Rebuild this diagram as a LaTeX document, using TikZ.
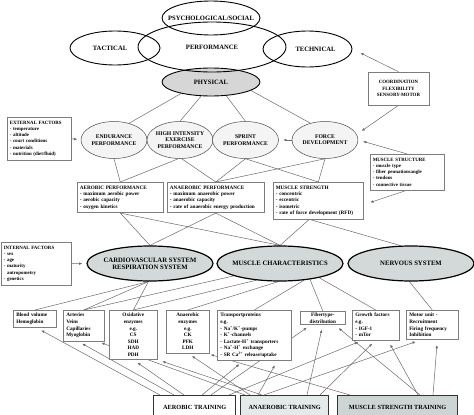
\documentclass[tikz,border=0pt]{standalone}
\usepackage{fontspec}
\setmainfont{Liberation Serif}
\usepackage{tikz}
\usetikzlibrary{arrows.meta,shapes.geometric,backgrounds}
\definecolor{edge}{RGB}{105,105,105}
\definecolor{frame}{RGB}{125,125,125}
\definecolor{physfill}{RGB}{214,214,214}
\definecolor{sysfill}{RGB}{211,217,217}
\definecolor{efffill}{RGB}{244,244,244}
\definecolor{antrfill}{RGB}{228,233,233}
\definecolor{mstrfill}{RGB}{204,212,212}
\tikzset{
  oval/.style={ellipse, draw=black, line width=0.9pt, inner sep=0pt},
  ovaltxt/.style={align=center, inner sep=0pt, font=\fontsize{6.6}{7.6}\selectfont\bfseries},
  % performance ellipses
  effect/.style={ellipse, draw=black!70, line width=0.5pt, fill=efffill, inner sep=0pt,
    minimum width=66pt, minimum height=37pt},
  efftxt/.style={align=center, inner sep=0pt, font=\fontsize{5.7}{6.3}\selectfont\bfseries},
  system/.style={ellipse, draw=black, line width=1.2pt, fill=sysfill, inner sep=0pt,
    minimum width=126pt, minimum height=35pt},
  systxt/.style={align=center, inner sep=0pt, font=\fontsize{6.7}{6.9}\selectfont\bfseries},
  % boxes
  factor/.style={draw=frame, line width=0.6pt, fill=white, anchor=north west, align=left,
    inner xsep=2.5pt, inner ysep=3.5pt, font=\fontsize{4.9}{6.3}\selectfont\bfseries},
  capacity/.style={factor, font=\fontsize{5.2}{6.3}\selectfont\bfseries},
  adapt/.style={draw=frame, line width=0.6pt, fill=white, anchor=north west, align=left,
    inner xsep=3pt, inner ysep=3pt, font=\fontsize{5.2}{6.6}\selectfont\bfseries},
  training/.style={draw=black!80, line width=1.3pt, anchor=north west, minimum height=23pt,
    font=\fontsize{6.3}{7}\selectfont\bfseries},
  link/.style={draw=edge, line width=0.5pt},
  arr/.style={draw=edge, line width=0.5pt, -{Latex[length=3.2pt,width=2.6pt]}, shorten >=5pt}
}
\begin{document}
\begin{tikzpicture}[x=1pt, y=-1pt]
  \useasboundingbox (0,0) rectangle (474,415);

  % top
  \node[oval, minimum width=98pt, minimum height=34pt, label={[ovaltxt]center:PSYCHOLOGICAL/SOCIAL}] (psych) at (211,18) {};
  \node[oval, minimum width=90pt, minimum height=34pt, label={[ovaltxt, xshift=-5pt]center:TACTICAL}] (tact) at (115,48) {};
  \node[oval, minimum width=89pt, minimum height=36pt, label={[ovaltxt, xshift=8pt]center:TECHNICAL}] (tech) at (307.5,49) {};
  \node[oval, fill=physfill, minimum width=98pt, minimum height=28pt, label={[ovaltxt]center:PHYSICAL}] (phys) at (211,82) {};
  \node[oval, minimum width=148pt, minimum height=50pt, label={[ovaltxt]center:PERFORMANCE}] (perf) at (212,47) {};
  \node[factor, anchor=center, align=center, minimum width=61pt, minimum height=33pt] (coord) at (398.5,88.5) {COORDINATION\\FLEXIBILITY\\SENSORY-MOTOR};

  % performance
  \node[effect, label={[efftxt]center:ENDURANCE\\PERFORMANCE}] (endur) at (114,140) {};
  \node[effect, label={[efftxt]center:HIGH INTENSITY\\EXERCISE\\PERFORMANCE}] (hiex) at (180,140) {};
  \node[effect, label={[efftxt]center:SPRINT\\PERFORMANCE}] (sprint) at (245.5,140) {};
  \node[effect, label={[efftxt]center:FORCE\\DEVELOPMENT}] (force) at (325,140) {};
  \node[factor, text width=59pt] (extf) at (7,117) {EXTERNAL FACTORS\\- temperature\\- altitude\\- court conditions\\- materials\\- nutrition (diet/fluid)};
  \node[factor, text width=69pt] (mstruct) at (370,154) {MUSCLE STRUCTURE\\- muscle type\\- fiber pennationsangle\\- tendons\\- connective tissue};

  % capacities
  \node[capacity, text width=81pt] (aerob) at (77,182) {AEROBIC PERFORMANCE\\- maximum aerobic power\\- aerobic capacity\\- oxygen kinetics};
  \node[capacity, text width=92pt] (anaer) at (167,182) {ANAEROBIC PERFORMANCE\\- maximum anaerobic power\\- anaerobic capacity\\- rate of anaerobic energy production};
  \node[capacity, text width=85pt] (mstren) at (273,182) {MUSCLE STRENGTH\\- concentric\\- eccentric\\- isometric\\- rate of force development (RFD)};
  \node[factor, text width=65pt] (intf) at (1,242) {INTERNAL FACTORS\\- sex\\- age\\- maturity\\\phantom{- }antropometry\\- genetics};

  % systems
  \node[system, label={[systxt]center:CARDIOVASCULAR SYSTEM\\RESPIRATION SYSTEM}] (cardio) at (150,263.5) {};
  \node[system, label={[systxt]center:MUSCLE CHARACTERISTICS}] (musch) at (280,263.5) {};
  \node[system, label={[systxt]center:NERVOUS SYSTEM}] (nerv) at (411,263.5) {};

  % adaptations
  \node[adapt, text width=37pt] (blood) at (13,310) {Blood volume\\Hemoglobin};
  \node[adapt, text width=35pt] (vess) at (63,310) {Arteries\\Veins\\Capillaries\\Myoglobin};
  \node[adapt, align=center, text width=42pt] (oxenz) at (109,310) {Oxidative\\enzymes\\e.g.\\CS\\SDH\\HAD\\PDH};
  \node[adapt, align=center, text width=37pt] (anenz) at (166,310) {Anaerobic\\enzymes\\e.g.\\CK\\PFK\\LDH};
  \node[adapt, text width=68pt] (transp) at (217,310) {Transportproteins\\e.g.\\- Na\textsuperscript{+}/K\textsuperscript{+}-pumps\\- K\textsuperscript{+}-channels\\- Lactate-H\textsuperscript{+} transporters\\- Na\textsuperscript{+}-H\textsuperscript{+} exchange\\- SR Ca\textsuperscript{2+} release/uptake};
  \node[adapt, align=center, text width=39pt, inner ysep=1.5pt] (fibre) at (300,311) {Fibertype-\\distribution};
  \node[adapt, text width=41pt] (growth) at (352,310) {Growth factors\\e.g.\\- IGF-1\\- mTor};
  \node[adapt, text width=46pt] (motor) at (406,310) {Motor unit -\\Recruitment\\Firing frequency\\Inhibition};

  % training
  \node[training, fill=white, minimum width=82pt] (aetr) at (153,395) {AEROBIC TRAINING};
  \node[training, fill=antrfill, minimum width=88pt] (antr) at (240,395) {ANAEROBIC TRAINING};
  \node[training, fill=mstrfill, minimum width=120pt] (mstr) at (337,395) {MUSCLE STRENGTH TRAINING};

  \begin{scope}[on background layer]
    \draw[arr, shorten >=9pt] (coord.north) -- (tech.east);
    \draw[arr, shorten >=6pt] (coord.south) -- (force.10);
    \draw[arr] (mstruct.north) -- (force.east);
    \draw[arr, shorten >=7pt] (mstruct.south) -- ([yshift=-4pt]mstren.east);
    \draw[arr, shorten >=3.5pt] (extf.east) -- (endur.west);
    \draw[arr, shorten >=4.5pt] (force.west) -- (sprint.east);
    \draw[arr, shorten >=4pt] (intf.east) -- (cardio.west);

    \draw[link] (phys.201) -- (endur.48);
    \draw[link] (phys.235) -- (hiex.north);
    \draw[link] (phys.318) -- (sprint.north);
    \draw[link] (phys.-12) -- (force.131);

    \draw[link] (endur.south) -- (aerob.north);
    \draw[link] (hiex.265) -- (aerob.north);
    \draw[link] (hiex.275) -- (anaer.north);
    \draw[link] (sprint.south) -- (anaer.north);
    \draw[link] (sprint.south) -- (mstren.north);
    \draw[link] (force.south) -- (anaer.north);
    \draw[link] (force.south) -- (mstren.north);

    \draw[link] (aerob.south) -- (cardio.north);
    \draw[link] (aerob.south) -- (musch.north);
    \draw[link] (anaer.south) -- (cardio.north);
    \draw[link] (anaer.south) -- (musch.north);
    \draw[link] ([xshift=-9pt]mstren.south) -- (musch.north);
    \draw[link] ([xshift=-9pt]mstren.south) -- (nerv.120);

    \draw[link] (cardio.-95) -- (blood.north);
    \draw[link] (cardio.-95) -- (vess.north);
    \draw[link] (cardio.-95) -- (oxenz.north);
    \draw[link] (musch.195) -- (vess.north);
    \draw[link] (musch.215) -- (oxenz.north);
    \draw[link] (musch.265) -- (anenz.north);
    \draw[link] (musch.-35) -- (transp.north);
    \draw[link] (musch.-28) -- (fibre.north);
    \draw[link] (musch.-20) -- (growth.north);
    \draw[link] (nerv.-95) -- (motor.north);

    % aerobic training
    \draw[arr] ([xshift=7pt]aetr.north west) -- ([xshift=2pt]blood.south);
    \draw[arr] ([xshift=21pt]aetr.north west) -- ([xshift=-6pt]vess.south);
    \draw[arr] ([xshift=31pt]aetr.north west) -- (oxenz.south);
    \draw[arr] ([xshift=49pt]aetr.north west) -- ([xshift=-11pt]transp.south);
    \draw[arr] ([xshift=58pt]aetr.north west) -- ([xshift=-12pt]fibre.south);
    \draw[arr] ([xshift=76pt]aetr.north west) -- ([xshift=-13pt]growth.south);
    % anaerobic training
    \draw[arr] ([xshift=5pt]antr.north west) -- ([xshift=13pt]vess.south);
    \draw[arr] ([xshift=22pt]antr.north west) -- (oxenz.south east);
    \draw[arr] ([xshift=10pt]antr.north west) -- (anenz.south);
    \draw[arr] ([xshift=18pt]antr.north west) -- ([xshift=23pt]transp.south);
    \draw[arr] ([xshift=67pt]antr.north west) -- (fibre.south);
    \draw[arr] ([xshift=80pt]antr.north west) -- (growth.south);
    \draw[arr] ([xshift=24pt]antr.north west) -- ([xshift=-12pt]motor.south);
    % strength training
    \draw[arr] ([xshift=13pt]mstr.north west) -- ([xshift=18pt]anenz.south);
    \draw[arr] ([xshift=83pt]mstr.north west) -- ([xshift=12pt]fibre.south);
    \draw[arr] ([xshift=81pt]mstr.north west) -- ([xshift=12pt]growth.south);
    \draw[arr] ([xshift=96pt]mstr.north west) -- ([xshift=5pt]motor.south);
  \end{scope}
\end{tikzpicture}
\end{document}
